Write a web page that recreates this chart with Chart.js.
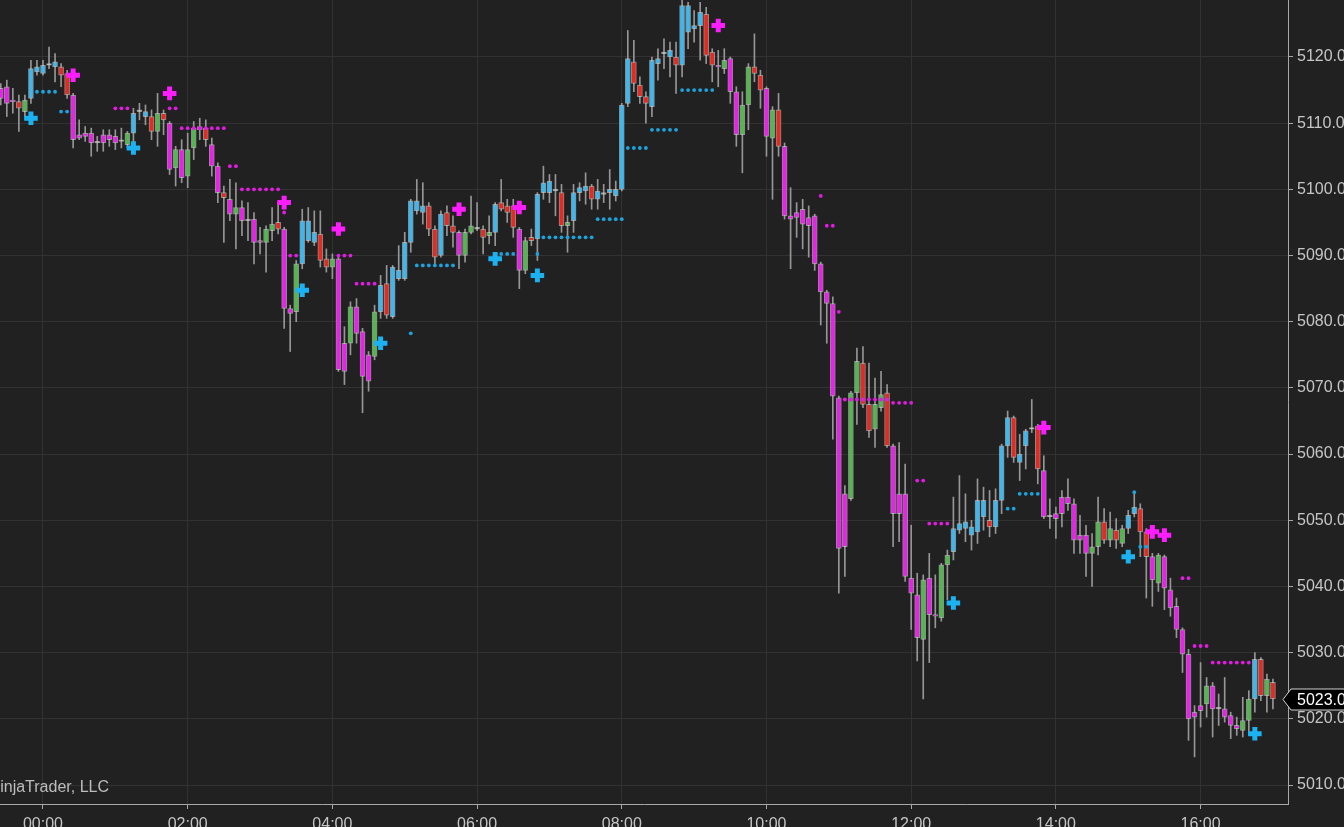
<!DOCTYPE html>
<html>
<head>
<meta charset="utf-8">
<title>ES 5 Minute</title>
<script src="https://cdn.jsdelivr.net/npm/chart.js@4.4.1/dist/chart.umd.min.js"></script>
<style>
    html, body { margin: 0; padding: 0; background: #212121; overflow: hidden; }
    #chartWrap { position: relative; width: 1344px; height: 827px; }
</style>
</head>
<body>
<div id="chartWrap"><canvas id="priceChart"></canvas></div>
<script>
// 5 minute bars, bar index 0 = 00:00 (first visible bar is 23:25)
const firstBar = -7;
const timeLabels = ['00:00', '02:00', '04:00', '06:00', '08:00', '10:00', '12:00', '14:00', '16:00'];
const priceTicks = [5010, 5020, 5030, 5040, 5050, 5060, 5070, 5080, 5090, 5100, 5110, 5120];

const opens = [
    5115.25, 5115.5, 5113.5, 5113.25, 5111.75, 5113.75, 5117.75,
    5117.5, 5118.75, 5118.5, 5118.5, 5117.5, 5114.25, 5108.25, 5108.5, 5108.5, 5107.0,
    5108.25, 5108.25, 5108.0, 5107.25, 5106.75, 5108.5, 5111.75, 5111.0, 5111.0, 5108.75,
    5111.5, 5110.0, 5103.25, 5106.0, 5102.0, 5106.25, 5109.5, 5109.25, 5106.75, 5103.5,
    5099.5, 5098.5, 5096.25, 5097.25, 5095.25, 5095.5, 5092.25, 5092.0, 5093.75, 5095.0,
    5094.0, 5082.0, 5081.5, 5088.75, 5092.25, 5092.0, 5093.25, 5089.5, 5088.25, 5089.5,
    5076.75, 5076.75, 5082.25, 5078.5, 5075.0, 5074.75, 5081.5, 5085.75, 5080.75, 5086.5,
    5086.5, 5092.0, 5096.75, 5096.5, 5097.5, 5094.0, 5090.0, 5096.5, 5094.5, 5093.5,
    5090.0, 5093.5, 5094.0, 5094.0, 5093.0, 5093.5, 5098.0, 5097.5, 5097.5, 5094.0,
    5087.75, 5092.75, 5092.5, 5099.5, 5099.5, 5099.75, 5099.5, 5094.5, 5095.25, 5099.5,
    5099.75, 5100.5, 5098.5, 5099.25, 5099.5, 5099.0, 5100.0, 5113.0, 5119.25, 5115.75,
    5114.0, 5112.5, 5119.0, 5120.5, 5120.0, 5120.0, 5118.75, 5123.75, 5124.25, 5124.75,
    5126.5, 5120.75, 5118.75, 5118.25, 5119.75, 5114.75, 5108.25, 5112.75, 5118.5, 5117.25,
    5115.25, 5107.75, 5112.0, 5106.5, 5096.0, 5096.5, 5097.0, 5095.75, 5096.0, 5088.75,
    5084.5, 5082.75, 5068.5, 5054.0, 5053.25, 5069.25, 5073.75, 5067.5, 5063.75, 5067.0,
    5069.25, 5061.25, 5054.0, 5054.0, 5041.25, 5038.75, 5032.0, 5041.25, 5035.75, 5035.25,
    5043.25, 5045.25, 5048.5, 5048.75, 5047.75, 5048.25, 5050.5, 5050.0, 5049.0, 5053.0,
    5061.25, 5065.5, 5058.75, 5061.25, 5063.75, 5064.25, 5057.5, 5050.5, 5051.0, 5053.5,
    5053.5, 5052.5, 5047.75, 5047.75, 5045.0, 5046.0, 5049.75, 5047.0, 5048.5, 5046.5,
    5048.75, 5051.0, 5051.75, 5048.25, 5044.5, 5040.5, 5044.5, 5039.5, 5037.0, 5033.5,
    5029.75, 5021.0, 5022.0, 5022.25, 5025.0, 5021.5, 5021.5, 5020.5, 5019.0, 5018.25,
    5019.75, 5023.0, 5029.0, 5023.5, 5025.5
];
const highs = [
    5116.0, 5116.5, 5115.25, 5114.25, 5114.25, 5119.5, 5119.5,
    5119.5, 5121.5, 5120.5, 5119.0, 5118.0, 5114.5, 5110.5, 5109.5, 5109.25, 5108.0,
    5109.0, 5109.0, 5109.0, 5109.25, 5108.75, 5112.25, 5113.0, 5112.75, 5112.0, 5114.5,
    5112.0, 5110.25, 5106.5, 5107.5, 5108.5, 5110.25, 5110.75, 5110.5, 5107.75, 5104.0,
    5100.5, 5101.5, 5101.0, 5098.25, 5098.0, 5096.5, 5094.25, 5094.5, 5097.25, 5098.0,
    5094.25, 5082.5, 5089.25, 5097.0, 5097.25, 5096.75, 5096.75, 5091.0, 5090.25, 5090.0,
    5079.25, 5083.0, 5083.5, 5079.0, 5075.5, 5082.5, 5087.0, 5088.5, 5088.5, 5091.5,
    5093.5, 5098.5, 5101.5, 5101.0, 5098.0, 5094.5, 5096.75, 5097.5, 5096.0, 5093.75,
    5094.0, 5099.0, 5098.0, 5094.5, 5096.0, 5098.0, 5101.5, 5098.5, 5098.5, 5094.25,
    5092.75, 5094.0, 5099.5, 5103.5, 5102.25, 5102.25, 5100.75, 5096.0, 5100.75, 5101.0,
    5102.5, 5100.75, 5101.5, 5100.75, 5103.0, 5101.25, 5113.0, 5124.0, 5122.5, 5117.0,
    5114.75, 5120.0, 5121.25, 5122.75, 5122.25, 5122.25, 5129.5, 5128.25, 5127.0, 5128.25,
    5127.5, 5121.25, 5121.0, 5121.25, 5120.0, 5115.5, 5114.75, 5119.0, 5123.5, 5118.0,
    5115.5, 5112.5, 5114.5, 5107.0, 5100.25, 5098.0, 5098.5, 5097.5, 5096.25, 5089.0,
    5084.75, 5083.75, 5068.75, 5055.25, 5069.5, 5076.0, 5076.25, 5073.75, 5071.5, 5072.5,
    5070.5, 5061.5, 5061.75, 5058.5, 5049.25, 5042.0, 5041.75, 5045.0, 5041.75, 5043.5,
    5045.5, 5053.5, 5056.75, 5054.0, 5050.0, 5056.25, 5055.0, 5054.5, 5054.75, 5061.5,
    5066.5, 5065.75, 5063.0, 5063.75, 5068.25, 5064.5, 5059.75, 5053.25, 5052.0, 5054.5,
    5056.25, 5053.25, 5050.75, 5049.25, 5048.0, 5053.5, 5051.75, 5051.25, 5050.25, 5049.25,
    5051.5, 5054.25, 5052.5, 5048.75, 5045.0, 5045.0, 5044.75, 5041.25, 5038.25, 5033.75,
    5030.5, 5022.0, 5028.5, 5026.25, 5025.5, 5023.75, 5026.25, 5021.0, 5020.25, 5023.25,
    5024.25, 5030.0, 5029.25, 5026.75, 5026.0
];
const lows = [
    5112.75, 5111.0, 5111.5, 5108.75, 5111.0, 5113.0, 5117.25,
    5117.25, 5118.25, 5116.25, 5115.5, 5113.75, 5106.25, 5107.5, 5107.25, 5105.0, 5105.75,
    5105.75, 5106.5, 5106.0, 5106.25, 5106.25, 5107.0, 5110.5, 5109.75, 5107.5, 5106.5,
    5108.25, 5102.25, 5100.5, 5101.0, 5100.25, 5104.5, 5107.5, 5106.5, 5102.0, 5098.0,
    5092.0, 5095.25, 5091.0, 5093.0, 5092.25, 5088.75, 5090.25, 5087.5, 5092.25, 5093.25,
    5079.0, 5075.5, 5080.0, 5088.0, 5092.0, 5091.5, 5088.25, 5087.5, 5086.5, 5072.5,
    5070.5, 5075.0, 5076.75, 5066.25, 5069.5, 5074.25, 5080.5, 5080.5, 5080.5, 5086.25,
    5086.25, 5090.5, 5096.25, 5094.75, 5093.0, 5088.75, 5089.75, 5093.0, 5091.25, 5088.0,
    5089.0, 5093.25, 5093.75, 5090.25, 5091.75, 5091.5, 5096.75, 5095.0, 5092.75, 5085.0,
    5087.25, 5091.5, 5089.25, 5098.5, 5098.0, 5096.0, 5093.5, 5090.5, 5093.5, 5098.25,
    5097.75, 5097.0, 5097.0, 5098.0, 5097.0, 5098.25, 5099.75, 5112.5, 5114.75, 5113.0,
    5110.0, 5111.0, 5116.5, 5118.25, 5117.0, 5114.5, 5117.0, 5121.25, 5122.25, 5119.5,
    5119.0, 5116.25, 5115.5, 5117.5, 5113.0, 5106.5, 5102.5, 5109.0, 5116.25, 5112.25,
    5105.0, 5098.5, 5105.0, 5095.5, 5088.0, 5092.75, 5091.0, 5089.75, 5087.75, 5079.5,
    5076.75, 5062.25, 5039.0, 5041.5, 5053.0, 5064.5, 5067.0, 5062.5, 5061.0, 5066.5,
    5061.0, 5046.0, 5046.75, 5040.75, 5033.5, 5028.75, 5023.0, 5028.5, 5033.75, 5034.75,
    5038.0, 5044.0, 5048.0, 5046.75, 5045.5, 5046.5, 5048.5, 5047.5, 5048.0, 5051.0,
    5059.5, 5058.75, 5056.0, 5057.75, 5063.25, 5055.5, 5050.25, 5048.75, 5047.25, 5049.0,
    5051.5, 5045.0, 5045.0, 5041.5, 5040.0, 5044.75, 5046.5, 5046.0, 5045.75, 5046.0,
    5048.0, 5050.5, 5044.5, 5038.25, 5037.0, 5039.25, 5036.5, 5035.5, 5032.25, 5027.0,
    5016.75, 5014.25, 5018.75, 5020.25, 5017.25, 5019.0, 5019.5, 5017.0, 5017.5, 5017.25,
    5017.75, 5021.0, 5022.75, 5021.0, 5021.5
];
const closes = [
    5113.75, 5113.0, 5113.25, 5112.25, 5113.5, 5118.25, 5118.5,
    5118.75, 5119.0, 5119.25, 5117.25, 5114.25, 5107.5, 5107.75, 5108.0, 5107.0, 5107.25,
    5107.0, 5107.5, 5107.0, 5107.5, 5108.5, 5111.5, 5112.0, 5111.75, 5108.75, 5111.5,
    5110.5, 5103.0, 5106.0, 5101.75, 5106.0, 5109.25, 5109.0, 5107.5, 5103.5, 5099.5,
    5098.75, 5096.25, 5097.25, 5095.25, 5095.5, 5092.0, 5092.0, 5094.0, 5094.75, 5094.0,
    5082.0, 5081.25, 5088.75, 5095.25, 5095.25, 5093.5, 5089.25, 5088.25, 5089.5, 5072.75,
    5072.5, 5082.25, 5078.25, 5071.75, 5071.0, 5081.5, 5085.5, 5081.0, 5088.25, 5087.75,
    5092.0, 5098.25, 5098.25, 5097.5, 5094.0, 5089.75, 5096.25, 5094.5, 5093.5, 5090.0,
    5093.5, 5094.5, 5094.25, 5092.75, 5093.5, 5097.75, 5097.0, 5096.5, 5094.25, 5087.75,
    5092.25, 5092.25, 5099.25, 5101.0, 5101.25, 5100.0, 5094.5, 5095.0, 5099.5, 5100.25,
    5100.5, 5098.5, 5099.75, 5099.5, 5100.0, 5100.0, 5112.75, 5119.75, 5116.0, 5114.0,
    5113.0, 5119.5, 5119.75, 5120.75, 5121.0, 5118.75, 5127.75, 5127.75, 5124.75, 5126.75,
    5120.25, 5118.75, 5118.5, 5119.5, 5114.75, 5108.25, 5112.75, 5118.5, 5117.5, 5115.0,
    5108.0, 5112.0, 5106.5, 5096.0, 5095.5, 5095.75, 5094.75, 5094.5, 5088.75, 5084.5,
    5082.75, 5068.75, 5045.75, 5046.0, 5069.25, 5074.0, 5067.5, 5063.5, 5067.5, 5069.0,
    5061.25, 5051.0, 5051.0, 5041.5, 5039.0, 5032.25, 5041.0, 5035.75, 5035.5, 5043.25,
    5044.75, 5048.75, 5049.5, 5049.75, 5049.0, 5053.0, 5053.0, 5049.0, 5053.0, 5061.25,
    5065.5, 5059.5, 5060.0, 5063.5, 5064.0, 5057.75, 5050.5, 5050.75, 5050.25, 5051.0,
    5052.5, 5047.0, 5047.0, 5045.0, 5046.0, 5049.75, 5047.0, 5048.75, 5047.0, 5048.75,
    5050.75, 5052.0, 5048.25, 5044.5, 5041.0, 5044.75, 5039.75, 5036.75, 5033.5, 5029.75,
    5020.0, 5020.25, 5021.25, 5025.0, 5021.5, 5021.75, 5020.25, 5019.0, 5018.5, 5019.75,
    5023.0, 5029.0, 5023.5, 5026.0, 5023.0
];
// C = up/uptrend, G = up/downtrend, M = down/downtrend, R = down/uptrend, W = doji
const barTrend = [
    'M', 'M', 'M', 'R', 'G', 'C', 'C',
    'C', 'W', 'C', 'R', 'R', 'M', 'M', 'M', 'M', 'W',
    'M', 'M', 'M', 'W', 'G', 'C', 'W', 'C', 'R', 'G',
    'R', 'M', 'G', 'M', 'G', 'G', 'M', 'R', 'M', 'M',
    'R', 'M', 'G', 'M', 'W', 'M', 'M', 'G', 'G', 'R',
    'M', 'M', 'G', 'C', 'C', 'C', 'R', 'R', 'G', 'M',
    'M', 'G', 'M', 'M', 'M', 'G', 'C', 'R', 'C', 'C',
    'C', 'C', 'C', 'C', 'R', 'R', 'C', 'R', 'R', 'M',
    'G', 'G', 'W', 'R', 'G', 'C', 'R', 'R', 'R', 'M',
    'G', 'R', 'C', 'C', 'C', 'W', 'R', 'G', 'C', 'C',
    'C', 'R', 'C', 'W', 'C', 'C', 'C', 'C', 'R', 'R',
    'R', 'C', 'C', 'W', 'C', 'R', 'C', 'C', 'C', 'C',
    'R', 'R', 'M', 'G', 'M', 'M', 'G', 'G', 'R', 'R',
    'M', 'G', 'R', 'M', 'M', 'M', 'M', 'M', 'M', 'M',
    'M', 'M', 'M', 'M', 'G', 'G', 'R', 'R', 'G', 'G',
    'R', 'M', 'M', 'M', 'M', 'M', 'G', 'M', 'M', 'G',
    'G', 'C', 'C', 'C', 'C', 'C', 'C', 'R', 'C', 'C',
    'C', 'R', 'C', 'C', 'W', 'R', 'M', 'W', 'M', 'M',
    'M', 'M', 'M', 'M', 'G', 'G', 'R', 'G', 'R', 'G',
    'C', 'C', 'R', 'R', 'M', 'G', 'M', 'M', 'M', 'M',
    'M', 'M', 'M', 'G', 'M', 'W', 'M', 'M', 'M', 'G',
    'G', 'C', 'R', 'G', 'R'
];

// trailing stop dots
const longStopBars = [
    -1, 0, 1, 2, 3, 4, 61, 62, 63, 64, 65, 66, 67, 68, 76, 77, 78, 82,
    83, 84, 85, 86, 87, 88, 89, 90, 91, 92, 93, 94, 95, 96, 97, 98, 99, 100,
    101, 102, 103, 104, 105, 106, 107, 108, 109, 110, 111,
    160, 161, 162, 163, 164, 165, 181, 182, 183
];
const longStopPrices = [
    5114.75, 5114.75, 5114.75, 5114.75, 5111.75, 5111.75, 5078.25,
    5088.5, 5088.5, 5088.5, 5088.5, 5088.5, 5088.5, 5088.5,
    5090.25, 5090.25, 5090.25, 5090.25,
    5092.75, 5092.75, 5092.75, 5092.75, 5092.75, 5092.75, 5092.75, 5092.75, 5092.75,
    5095.5, 5095.5, 5095.5, 5095.5, 5095.5,
    5106.25, 5106.25, 5106.25, 5106.25,
    5109.0, 5109.0, 5109.0, 5109.0, 5109.0,
    5115.0, 5115.0, 5115.0, 5115.0, 5115.0, 5115.0,
    5051.75, 5051.75, 5054.0, 5054.0, 5054.0, 5054.0, 5054.25, 5046.0, 5046.0
];
const shortStopBars = [
    12, 13, 14, 21, 22, 23, 24, 25, 26, 27, 28, 29, 30, 31, 32,
    33, 34, 35, 36, 37, 38, 39, 40, 41, 42, 49, 50, 51, 52, 53, 54, 55,
    129, 130, 131, 132, 133, 134, 135, 136, 137, 138, 139, 140, 141, 142, 143, 144,
    145, 146, 147, 148, 149, 150, 189, 190, 191, 192, 193,
    194, 195, 196, 197, 198, 199, 200
];
const shortStopPrices = [
    5112.25, 5112.25, 5112.25, 5112.25, 5112.25,
    5109.25, 5109.25, 5109.25, 5109.25, 5109.25, 5109.25, 5109.25, 5109.25,
    5103.5, 5103.5,
    5100.0, 5100.0, 5100.0, 5100.0, 5100.0, 5100.0, 5100.0,
    5096.5, 5090.0, 5090.0, 5090.0, 5090.0, 5090.0,
    5085.75, 5085.75, 5085.75, 5085.75,
    5099.0, 5094.5, 5094.5, 5081.5,
    5068.25, 5068.25, 5068.25, 5068.25, 5068.25, 5068.25, 5068.25, 5068.25,
    5067.75, 5067.75, 5067.75, 5067.75,
    5056.0, 5056.0, 5049.5, 5049.5, 5049.5, 5049.5,
    5041.25, 5041.25, 5031.0, 5031.0, 5031.0,
    5028.5, 5028.5, 5028.5, 5028.5, 5028.5, 5028.5, 5028.5
];

// signal markers
const buyBars = [-2, 15, 43, 56, 75, 82, 151, 180, 201];
const buyPrices = [5110.75, 5106.25, 5084.75, 5076.75, 5089.5, 5087.0, 5037.5, 5044.5, 5017.75];
const sellBars = [5, 21, 40, 49, 69, 79, 112, 166, 184, 186];
const sellPrices = [5117.25, 5114.5, 5098.0, 5094.0, 5097.0, 5097.25, 5124.75, 5064.0, 5048.25, 5047.75];

class PriceChart {
    constructor() {
        this.canvas = document.getElementById('priceChart');
        this.font = '"Liberation Sans", Arial, sans-serif';
        this.colors = {
            C: '#3cb8f0',
            G: '#52b84e',
            M: '#ec20ec',
            R: '#e8291f',
            W: '#d4d4d4'
        };
        this.init();
    }

    init() {
        Chart.defaults.font.family = this.font;
        Chart.defaults.font.size = 16;
        Chart.defaults.color = '#c6c6c6';
        new Chart(this.canvas, {
            type: 'bar',
            data: { datasets: this.buildDatasets() },
            options: this.buildOptions(),
            plugins: [this.overlayPlugin()]
        });
    }

    buildDatasets() {
        const xs = opens.map((o, k) => firstBar + k);
        const markers = (bars, prices) => bars.map((b, k) => ({ x: b, y: prices[k] }));

        return [
            {
                label: 'Wicks',
                data: xs.map((x, k) => ({ x, y: [lows[k], highs[k]] })),
                backgroundColor: '#969696',
                barThickness: 1,
                grouped: false,
                order: 4
            },
            {
                label: 'Bodies',
                data: xs.map((x, k) => ({ x, y: [opens[k], closes[k]] })),
                backgroundColor: barTrend.map(c => this.colors[c]),
                borderColor: 'rgba(230, 230, 230, 0.55)',
                borderWidth: 1,
                borderSkipped: false,
                barThickness: 5,
                grouped: false,
                order: 3
            },
            {
                type: 'line',
                label: 'Long stop',
                data: markers(longStopBars, longStopPrices),
                showLine: false,
                pointRadius: 1.9,
                pointBorderWidth: 0,
                pointBackgroundColor: '#1ea3dc',
                order: 2
            },
            {
                type: 'line',
                label: 'Short stop',
                data: markers(shortStopBars, shortStopPrices),
                showLine: false,
                pointRadius: 1.9,
                pointBorderWidth: 0,
                pointBackgroundColor: '#e21ce2',
                order: 2
            },
            {
                type: 'line',
                label: 'Buy',
                data: markers(buyBars, buyPrices),
                showLine: false,
                pointStyle: 'cross',
                pointRadius: 6.8,
                pointBorderWidth: 5,
                pointBorderColor: '#1cb2f2',
                order: 1
            },
            {
                type: 'line',
                label: 'Sell',
                data: markers(sellBars, sellPrices),
                showLine: false,
                pointStyle: 'cross',
                pointRadius: 6.8,
                pointBorderWidth: 5,
                pointBorderColor: '#ff1cff',
                order: 1
            }
        ];
    }

    buildOptions() {
        const gridColor = '#323232';
        const axisColor = '#a8a8a8';
        return {
            responsive: true,
            maintainAspectRatio: false,
            animation: false,
            events: [],
            layout: { padding: 0, autoPadding: false },
            plugins: {
                legend: { display: false },
                tooltip: { enabled: false }
            },
            scales: {
                x: {
                    type: 'linear',
                    min: -7.13,
                    max: 206.5,
                    offset: false,
                    grid: { color: gridColor, tickColor: axisColor, tickLength: 5, offset: false },
                    border: { color: axisColor },
                    ticks: {
                        padding: 6,
                        maxRotation: 0,
                        autoSkip: false,
                        callback: (v, i) => timeLabels[i]
                    },
                    afterBuildTicks: s => { s.ticks = timeLabels.map((t, k) => ({ value: k * 24 })); },
                    afterFit: s => { s.height = 23; s.paddingLeft = 0; s.paddingRight = 0; }
                },
                y: {
                    position: 'right',
                    min: 5007.13,
                    max: 5128.61,
                    grid: { color: gridColor, tickColor: axisColor, tickLength: 5 },
                    border: { color: axisColor },
                    ticks: {
                        padding: 4,
                        callback: v => v.toFixed(2)
                    },
                    afterBuildTicks: s => { s.ticks = priceTicks.map(v => ({ value: v })); },
                    afterFit: s => { s.width = 56; s.paddingTop = 0; s.paddingBottom = 0; }
                }
            }
        };
    }

    overlayPlugin() {
        const font = this.font;
        return {
            id: 'overlay',
            beforeDraw(chart) {
                const ctx = chart.ctx;
                ctx.save();
                ctx.fillStyle = '#212121';
                ctx.fillRect(0, 0, chart.width, chart.height);
                ctx.restore();
            },
            afterDraw(chart) {
                const { ctx, chartArea, scales } = chart;
                const last = closes[closes.length - 1];
                const py = Math.round(scales.y.getPixelForValue(last)) + 0.5;
                const tip = chartArea.right - 5;

                // last price tag
                ctx.save();
                ctx.beginPath();
                ctx.moveTo(tip, py);
                ctx.lineTo(tip + 8, py - 10.5);
                ctx.lineTo(chart.width + 2, py - 10.5);
                ctx.lineTo(chart.width + 2, py + 10.5);
                ctx.lineTo(tip + 8, py + 10.5);
                ctx.closePath();
                ctx.fillStyle = '#000000';
                ctx.fill();
                ctx.strokeStyle = '#d2d2d2';
                ctx.lineWidth = 1;
                ctx.stroke();
                ctx.fillStyle = '#ffffff';
                ctx.font = '16px ' + font;
                ctx.textBaseline = 'middle';
                ctx.fillText(last.toFixed(2), chartArea.right + 9, py + 1);

                // copyright
                ctx.fillStyle = '#bcbcbc';
                ctx.textAlign = 'right';
                ctx.fillText('© 2024 NinjaTrader, LLC', 109, 788);
                ctx.restore();
            }
        };
    }
}

new PriceChart();
</script>
</body>
</html>
